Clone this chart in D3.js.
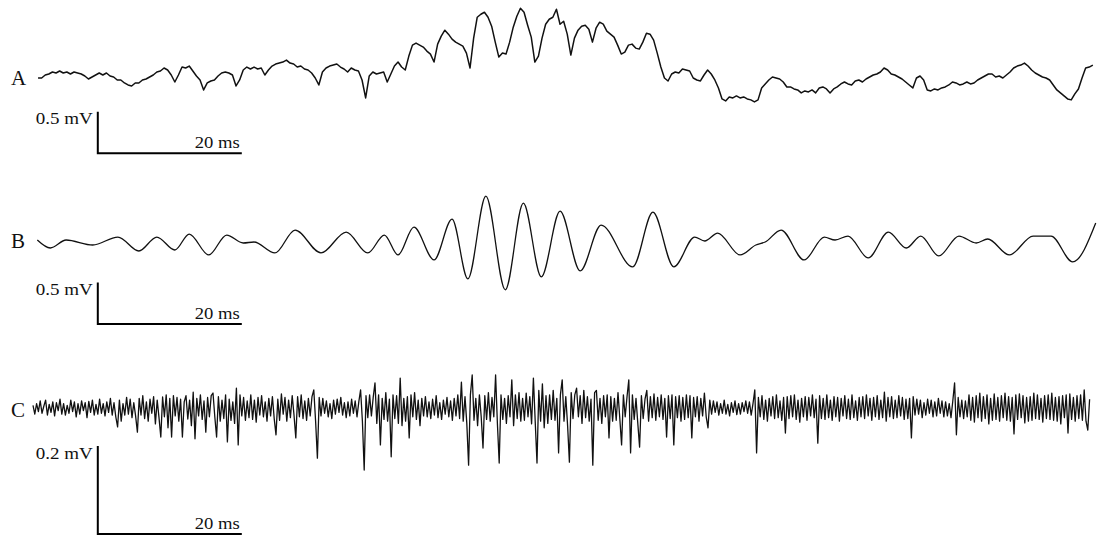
<!DOCTYPE html>
<html>
<head>
<meta charset="utf-8">
<script src="https://cdn.jsdelivr.net/npm/d3@7"></script>
<style>
  body { margin: 0; background: #fff; }
  text { font-family: "Liberation Serif", "Times New Roman", serif; fill: #111; }
</style>
</head>
<body>
<svg width="1104" height="543"></svg>
<script>
// trace A, raw signal in µV, one sample every 0.5 ms starting at 0.7 ms
const traceA = [
  -36,-36,0,12,36,24,48,24,36,12,
  36,24,12,-12,-48,-24,0,24,0,24,
  -12,-24,-60,-60,-96,-120,-132,-96,-96,-60,
  -48,-24,0,36,48,84,60,0,-84,0,
  96,84,108,48,-12,-60,-180,-96,-72,-60,
  -12,24,36,24,0,-132,-60,60,96,72,
  96,72,84,0,60,108,132,144,156,180,
  144,132,96,108,72,60,24,-36,-120,36,
  84,108,120,132,96,72,36,84,60,48,
  -60,-276,-12,36,12,24,36,-84,12,108,
  156,96,60,228,360,384,360,336,288,252,
  156,372,468,540,492,432,396,372,348,264,
  84,444,696,732,756,696,588,396,216,264,
  252,396,576,708,804,756,600,456,156,228,
  444,612,672,696,792,612,648,492,240,444,
  540,588,600,552,396,564,636,612,528,492,
  456,360,252,276,360,372,324,312,396,504,
  492,420,264,96,-36,-72,12,36,24,72,
  60,48,-36,-60,-72,0,60,12,-60,-156,
  -288,-312,-264,-276,-252,-276,-264,-288,-300,-324,
  -300,-156,-108,-60,-24,-36,-48,-84,-144,-144,
  -168,-180,-216,-192,-204,-180,-216,-156,-144,-168,
  -216,-168,-144,-108,-84,-108,-120,-72,-60,-84,
  -48,-24,0,12,36,84,60,12,0,-24,
  -48,-84,-120,-156,-36,-12,-60,-180,-192,-168,
  -180,-156,-144,-120,-84,-96,-120,-108,-84,-108,
  -96,-60,-36,-12,12,12,-24,-12,-36,0,
  36,84,108,120,144,108,60,24,0,-24,
  -36,-60,-120,-180,-216,-252,-288,-300,-228,-168,
  -36,84,96,120
];
const aStart = 0.7;
const aStep = 0.5;

// trace B, filtered signal: turning points (ms, µV)
const traceBTimes = [
  0.6,2.4,4.6,8.3,11.8,14.7,17.2,19.7,21.7,24.4,
  26.9,29.2,30.7,33.6,36.4,40.0,43.5,46.5,48.8,50.7,
  52.9,55.7,58.2,60.4,62.9,65.6,68.1,70.6,73.2,76.0,
  78.9,83.3,86.1,89.0,91.9,93.3,95.1,98.2,100.4,101.7,
  103.9,107.1,109.9,111.4,113.2,116.0,118.8,121.3,123.3,125.8,
  128.6,131.0,132.6,135.6,138.9,141.4,144.4,147.6
];
const traceBValues = [
  60,-36,60,0,96,-72,96,-60,132,-120,
  120,24,36,-96,180,-96,156,-96,120,-120,
  216,-180,312,-408,588,-540,504,-384,408,-312,
  240,-264,396,-264,96,48,144,-120,0,36,
  180,-180,96,60,108,-156,156,-36,108,-132,
  108,24,72,-120,108,108,-204,264
];

// trace C, high-pass signal in µV, one sample every 0.25 ms from 0 ms
const traceC = [
  6,-14,10,-8,16,-12,4,18,-16,8,-10,14,-18,12,-6,20,-14,10,-16,6,
  -12,18,-8,14,-20,10,-14,16,-6,12,-22,15,-10,18,-16,8,-14,20,-12,10,
  -18,14,-10,22,-16,12,-20,-43,18,-30,10,-16,24,-14,20,-22,12,-18,-55,22,
  -16,28,-24,14,-30,20,-12,26,-36,18,-22,-66,25,-20,30,-45,22,-66,28,-18,
  24,-30,20,-66,14,28,-25,18,-40,36,-70,22,-18,30,-26,16,-55,24,-20,28,
  34,-20,-66,26,-30,18,-24,30,-77,20,-28,14,-35,45,-84,30,-18,24,-28,16,
  -22,30,-26,18,-32,24,-16,28,-20,14,-30,22,-18,26,-24,-61,20,-28,32,-14,
  24,-30,18,-22,28,-16,-68,26,-20,30,-24,16,-28,22,-18,26,41,-30,-114,24,
  -18,22,-12,16,-20,10,-24,18,-14,20,-10,24,-16,12,-22,14,-18,20,-12,16,
  -20,14,41,-30,-141,28,-22,30,-18,24,57,-35,30,-84,22,-26,35,-30,20,-111,
  30,-24,28,-35,68,-40,22,-30,26,-68,30,-20,35,-26,18,-40,22,-18,26,-20,
  14,-24,20,-16,28,-22,12,-26,18,-14,24,-20,16,-28,22,-18,30,-24,59,-30,
  26,-35,-130,30,75,-28,22,-40,30,-20,-91,28,-26,35,-30,24,-20,75,-35,-125,
  30,-26,22,-35,28,-20,64,-40,30,-24,35,-30,22,-28,34,-20,26,-36,68,-30,
  -125,40,-30,55,-45,28,-35,30,-26,40,-28,22,-102,30,64,-30,26,-40,-123,35,
  -24,30,45,-20,28,-35,40,-22,26,-30,20,-130,35,40,-28,22,-35,28,-20,30,
  -68,26,-30,22,-28,35,-24,-84,30,-20,25,64,-102,30,-26,22,-35,-89,28,-24,
  20,40,-30,26,-22,32,-28,24,-20,30,-26,22,-66,28,-24,30,-84,26,-22,28,
  -30,24,-26,30,-22,28,-68,24,-20,26,-30,22,-18,34,-20,-45,18,-14,16,-10,
  14,-16,10,-12,18,-14,8,-18,12,-10,16,-15,10,-14,12,-8,16,-12,14,-16,
  10,41,-102,24,-20,28,-26,18,-30,22,-18,26,-24,30,-22,16,-28,24,-57,26,
  -24,28,-20,30,-26,18,-32,22,-20,26,-28,24,-18,30,-22,20,-80,28,-24,22,
  -26,30,-22,18,-28,26,-20,24,-30,22,-18,28,-24,20,-26,30,-22,16,-28,24,
  -20,26,-24,30,-18,22,-28,24,-20,28,-26,18,-22,36,-30,24,-20,26,-24,18,
  -22,28,-18,24,-26,20,-24,22,-68,26,-16,20,-14,18,-22,12,-16,20,-12,18,
  -20,14,-18,22,-12,16,-20,14,-18,10,-22,16,57,-61,24,-20,18,-24,16,-20,
  30,-28,24,-32,28,-22,34,-30,26,-24,30,-36,22,-28,32,-26,24,-30,28,-22,
  34,-28,26,-30,24,-59,30,-26,32,-22,28,-34,24,-30,26,-28,34,-24,30,-26,
  22,-32,28,-24,30,-26,34,-28,24,-30,26,-36,28,-22,30,-57,32,-26,24,-30,
  28,-24,30,-28,41,-30,-50,20
];
const cStep = 0.25;

const traceLabels = ['A', 'B', 'C'];
const barTexts = ['0.5 mV', '0.5 mV', '0.2 mV'];
const barValues = [500, 500, 200]; // µV
const timeBar = [9, 29]; // ms
const timeBarText = '20 ms';

const svg = d3.select('svg');

// 20 ms = 144 px
const x = d3.scaleLinear().domain([0, 20]).range([33, 177]);

// one y scale per trace, centred on its own baseline
const yA = d3.scaleLinear().domain([-500, 500]).range([116.5, 33.5]);
const yB = d3.scaleLinear().domain([-500, 500]).range([286.5, 203.5]);
const yC = d3.scaleLinear().domain([-200, 200]).range([496, 320]);

const dataA = traceA.map((v, i) => ({ t: aStart + i * aStep, v: v }));
const dataB = traceBTimes.map((t, i) => ({ t: t, v: traceBValues[i] }));
const dataC = traceC.map((v, i) => ({ t: i * cStep, v: v }));

svg.append('path')
  .datum(dataA)
  .attr('fill', 'none')
  .attr('stroke', '#111')
  .attr('stroke-width', 1.5)
  .attr('stroke-linejoin', 'round')
  .attr('d', d3.line().x(d => x(d.t)).y(d => yA(d.v)));

svg.append('path')
  .datum(dataB)
  .attr('fill', 'none')
  .attr('stroke', '#111')
  .attr('stroke-width', 1.3)
  .attr('d', d3.line().curve(d3.curveMonotoneX).x(d => x(d.t)).y(d => yB(d.v)));

svg.append('path')
  .datum(dataC)
  .attr('fill', 'none')
  .attr('stroke', '#111')
  .attr('stroke-width', 1.3)
  .attr('stroke-linejoin', 'round')
  .attr('d', d3.line().x(d => x(d.t)).y(d => yC(d.v)));

// trace letters
const letterY = [85, 248, 417];
svg.selectAll('text.letter')
  .data(traceLabels)
  .join('text')
  .attr('class', 'letter')
  .attr('x', 11)
  .attr('y', (d, i) => letterY[i])
  .attr('font-size', 21)
  .text(d => d);

// scale bars
const scales = [yA, yB, yC];
const barBottom = [153.3, 324, 534];

scales.forEach((ys, i) => {
  const g = svg.append('g');
  const len = ys(0) - ys(barValues[i]);
  const x0 = x(timeBar[0]);
  const x1 = x(timeBar[1]);
  const yb = barBottom[i];

  g.append('path')
    .attr('fill', 'none')
    .attr('stroke', '#000')
    .attr('stroke-width', 2)
    .attr('d', `M${x0},${yb - len}V${yb}H${x1}`);

  g.append('text')
    .attr('x', x0 - 5)
    .attr('y', yb - len + 12.5)
    .attr('text-anchor', 'end')
    .attr('font-size', 17)
    .attr('textLength', 57)
    .attr('lengthAdjust', 'spacingAndGlyphs')
    .text(barTexts[i]);

  g.append('text')
    .attr('x', x1 - 2)
    .attr('y', yb - 5.5)
    .attr('text-anchor', 'end')
    .attr('font-size', 16)
    .attr('textLength', 45)
    .attr('lengthAdjust', 'spacingAndGlyphs')
    .text(timeBarText);
});
</script>
</body>
</html>
